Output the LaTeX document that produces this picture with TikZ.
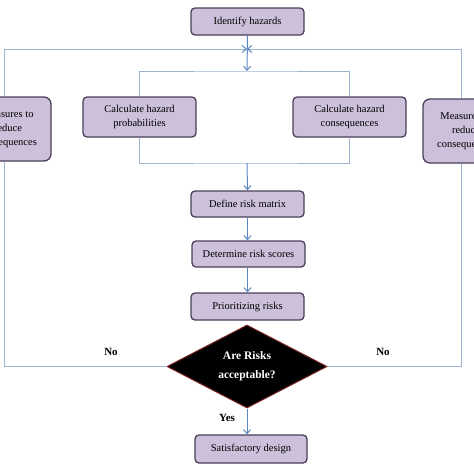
\documentclass[tikz,border=0pt]{standalone}
\usepackage{fontspec}
\setmainfont{Liberation Serif}
\usetikzlibrary{arrows.meta,shapes.geometric}

\definecolor{boxfill}{HTML}{CCC0DA}
\definecolor{boxline}{HTML}{4A3F5A}
\definecolor{flowline}{HTML}{9DB4D0}
\definecolor{flowarrow}{HTML}{5B85BF}
\definecolor{decline}{HTML}{7A2020}

\tikzset{
	stepbox/.style={draw=boxline, line width=1.3pt, fill=boxfill, rounded corners=4pt,
		minimum width=113pt, minimum height=27pt, align=center, inner sep=2pt,
		font=\fontsize{10.5}{14}\selectfont},
	sidebox/.style={stepbox, minimum width=86pt, minimum height=64pt, rounded corners=7pt},
	decision/.style={diamond, draw=decline, line width=1pt, fill=black, text=white,
		aspect=1.9, inner sep=0pt, minimum width=160pt, minimum height=83pt, align=center,
		font=\bfseries\fontsize{11.5}{19}\selectfont},
	answer/.style={font=\bfseries\fontsize{11}{12}\selectfont, inner sep=1pt},
	flowline/.style={draw=flowline, line width=1pt},
	flowarrow/.style={draw=flowarrow, line width=1pt,
		-{Straight Barb[length=4pt, width=7pt, color=flowarrow]}}
}

\begin{document}
\begin{tikzpicture}[x=1pt, y=-1pt]
\useasboundingbox (0,0) rectangle (474,474);
\clip (0,0) rectangle (474,474);

\node[stepbox] (idh) at (247.5,21.5) {Identify hazards};
\node[stepbox, minimum height=40pt] (chp) at (139.5,117) {Calculate hazard\\probabilities};
\node[stepbox, minimum height=40pt] (chc) at (349.5,117) {Calculate hazard\\consequences};
\node[sidebox] (mrl) at (8,129) {Measures to\\reduce\\consequences};
\node[sidebox] (mrr) at (466,131) {Measures to\\reduce\\consequences};
\node[stepbox, minimum height=26pt] (drm) at (247.5,204) {Define risk matrix};
\node[stepbox, minimum height=26pt] (drs) at (248.5,254) {Determine risk scores};
\node[stepbox] (prr) at (247.5,306.5) {Prioritizing risks};
\node[decision] (dec) at (247,366.5) {Are Risks\\acceptable?};
\node[stepbox, minimum width=112pt, minimum height=28pt] (sat) at (251,449) {Satisfactory design};

\coordinate (top) at (247,49);
\coordinate (spl) at (247,71);
\coordinate (jn) at (247,163);
\coordinate (lb) at (4,366.5);
\coordinate (rb) at (461,366.5);

\draw[flowarrow] (idh.south) -- (spl);
\draw[flowline] (chp.north) |- (spl) -| (chc.north);
\draw[flowline] (chp.south) |- (jn) -| (chc.south);
\draw[flowarrow] (jn) -- (drm.north);
\draw[flowarrow] (drm.south) -- (drm.south |- drs.north);
\draw[flowarrow] (drs.south -| prr.north) -- (prr.north);
\draw[flowarrow] (dec.south) -- (dec.south |- sat.north);
\node[answer] (yes) at (227,418) {Yes};

\draw[flowline] (dec.west) -- (lb) -- (lb |- mrl.south);
\draw[flowline] (dec.east) -- (rb) -- (rb |- mrr.south);
\draw[flowline] (lb |- mrl.north) |- (top);
\draw[flowline] (rb |- mrr.north) |- (top);
\draw[flowarrow, draw=flowline] ([xshift=-12pt]top) -- (top);
\draw[flowarrow, draw=flowline] ([xshift=12pt]top) -- (top);
\node[answer] (nol) at (111,352) {No};
\node[answer] (nor) at (383,352) {No};
\end{tikzpicture}
\end{document}
